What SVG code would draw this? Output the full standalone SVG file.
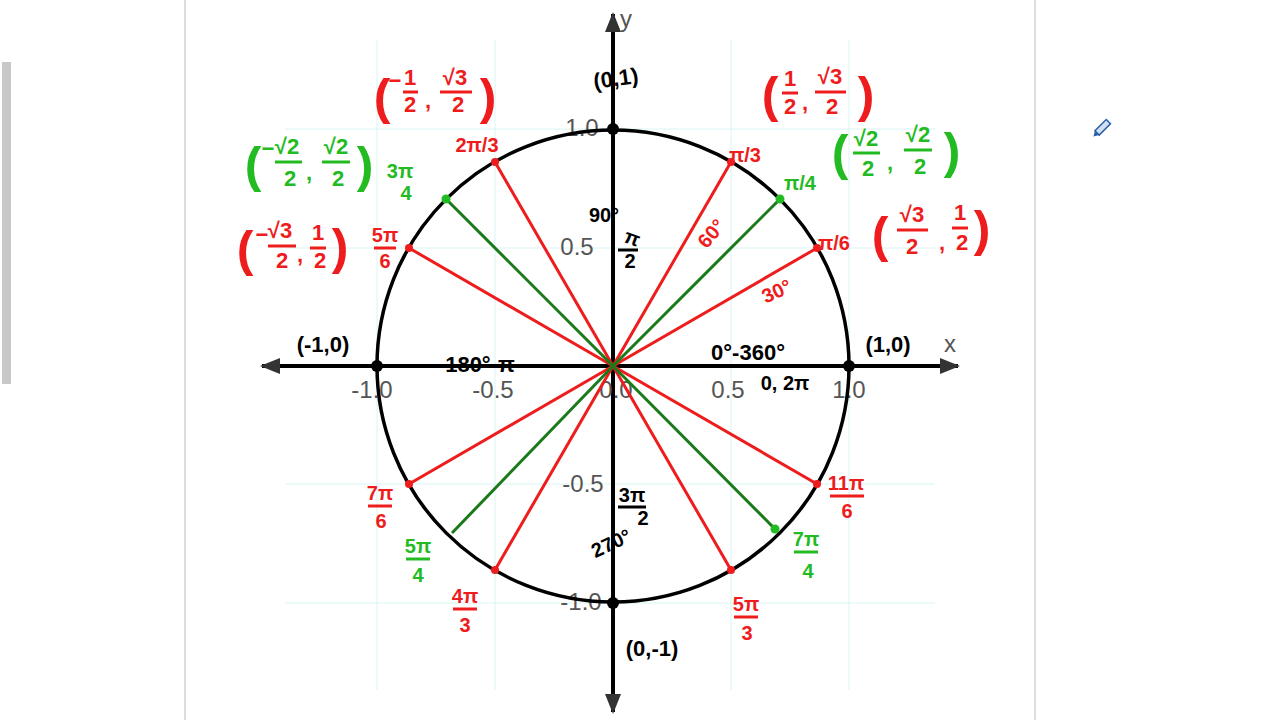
<svg xmlns="http://www.w3.org/2000/svg" width="1280" height="720" viewBox="0 0 1280 720">
<defs>
<style>
.g{stroke:#d8f4f4;stroke-width:1}
.ax{stroke:#000;stroke-width:4}
.tk{font-family:"Liberation Sans",sans-serif;font-size:24px;fill:#555;text-anchor:middle}
.h{font-family:"Liberation Sans",sans-serif;font-weight:bold;text-anchor:middle}
.r{fill:#ee1c1c}.gr{fill:#22bb22}.k{fill:#000}
.p{font-size:50px}.n{font-size:22px}.s{font-size:20px}
.rl{stroke:#ee1c1c;stroke-width:3}.gl{stroke:#1a7a1a;stroke-width:3}
.rb{stroke:#ee1c1c;stroke-width:3}.gb{stroke:#22bb22;stroke-width:3}
</style>
<marker id="ar" viewBox="0 0 10 10" refX="9" refY="5" markerWidth="5" markerHeight="5" orient="auto"><path d="M0,1 L10,5 L0,9 z" fill="#333"/></marker>
</defs>
<rect width="1280" height="720" fill="#fff"/>
<line x1="185" y1="0" x2="185" y2="720" stroke="#bbb"/>
<line x1="1035" y1="0" x2="1035" y2="720" stroke="#bbb"/>
<rect x="2" y="62" width="9" height="322" fill="#c8c8c8"/>
<g id="grid">
<line class="g" x1="377" y1="40" x2="377" y2="690"/><line class="g" x1="495" y1="40" x2="495" y2="690"/><line class="g" x1="731" y1="40" x2="731" y2="690"/><line class="g" x1="849" y1="40" x2="849" y2="690"/>
<line class="g" x1="285" y1="129" x2="935" y2="129"/><line class="g" x1="285" y1="248" x2="935" y2="248"/><line class="g" x1="285" y1="484" x2="935" y2="484"/><line class="g" x1="285" y1="603" x2="935" y2="603"/>
</g>
<g id="axes">
<line class="ax" x1="613" y1="366" x2="958" y2="366" stroke-width="3" marker-end="url(#ar)"/>
<line class="ax" x1="613" y1="366" x2="262" y2="366" stroke-width="3" marker-end="url(#ar)"/>
<line class="ax" x1="613" y1="366" x2="613" y2="14" stroke-width="3" marker-end="url(#ar)"/>
<line class="ax" x1="613" y1="366" x2="613" y2="712" stroke-width="3" marker-end="url(#ar)"/>
<text x="950" y="352" class="tk">x</text><text x="626" y="27" class="tk">y</text>
<text x="582" y="136" class="tk">1.0</text><text x="577" y="255" class="tk">0.5</text><text x="583" y="492" class="tk">-0.5</text><text x="581" y="610" class="tk">-1.0</text>
<text x="372" y="398" class="tk">-1.0</text><text x="493" y="398" class="tk">-0.5</text><text x="616" y="398" class="tk">0.0</text><text x="728" y="398" class="tk">0.5</text><text x="849" y="398" class="tk">1.0</text>
</g>
<g id="circle"><circle cx="613" cy="366" r="236" fill="none" stroke="#000" stroke-width="3.5"/></g>
<g id="connectors">
<line class="rl" x1="613" y1="366" x2="817" y2="248"/><line class="rl" x1="613" y1="366" x2="409" y2="484"/>
<line class="rl" x1="613" y1="366" x2="731" y2="162"/><line class="rl" x1="613" y1="366" x2="495" y2="570"/>
<line class="rl" x1="613" y1="366" x2="495" y2="162"/><line class="rl" x1="613" y1="366" x2="731" y2="570"/>
<line class="rl" x1="613" y1="366" x2="409" y2="248"/><line class="rl" x1="613" y1="366" x2="817" y2="484"/>
<line class="gl" x1="613" y1="366" x2="780" y2="199"/><line class="gl" x1="613" y1="366" x2="452" y2="533"/>
<line class="gl" x1="613" y1="366" x2="446" y2="199"/><line class="gl" x1="613" y1="366" x2="775" y2="529"/>
</g>
<g id="dots">
<circle cx="377" cy="366" r="6"/><circle cx="849" cy="366" r="6"/><circle cx="613" cy="129" r="6"/><circle cx="613" cy="603" r="6"/>
<g fill="#ee1c1c"><circle cx="817" cy="248" r="4"/><circle cx="731" cy="162" r="4"/><circle cx="495" cy="162" r="4"/><circle cx="409" cy="248" r="4"/><circle cx="409" cy="484" r="4"/><circle cx="495" cy="570" r="4"/><circle cx="731" cy="570" r="4"/><circle cx="817" cy="484" r="4"/></g>
<g fill="#22bb22"><circle cx="780" cy="199" r="4.5"/><circle cx="446" cy="199" r="4.5"/><circle cx="775" cy="529" r="4.5"/></g>
</g>
<g id="black-labels" class="h k">
<text x="616" y="86" class="n" transform="rotate(-8 616 80)">(0,1)</text>
<text x="323" y="352" class="n">(-1,0)</text>
<text x="888" y="352" class="n">(1,0)</text>
<text x="652" y="656" class="n">(0,-1)</text>
<text x="480" y="372" class="n">180°-π</text>
<text x="748" y="360" class="n">0°-360°</text>
<text x="785" y="390" class="s">0, 2π</text>
<text x="604" y="222" class="s">90°</text>
<text x="628" y="244" class="s" transform="rotate(20 628 250)">π</text><line x1="618" y1="250" x2="638" y2="250" stroke="#000" stroke-width="3"/><text x="630" y="268" class="s">2</text>
<text x="632" y="502" class="s">3π</text><line x1="618" y1="507" x2="646" y2="507" stroke="#000" stroke-width="3"/><text x="643" y="525" class="s">2</text>
<text x="612" y="550" class="s" transform="rotate(-25 612 545)">270°</text>
</g>
<g id="red-labels" class="h r">
<text x="382" y="114" class="p">(</text><text x="395" y="88" class="n">−</text><text x="410" y="85" class="n">1</text><line class="rb" x1="403" y1="92" x2="418" y2="92"/><text x="410" y="112" class="n">2</text><text x="428" y="108" class="n">,</text><text x="455" y="85" class="n">√3</text><line class="rb" x1="440" y1="92" x2="472" y2="92"/><text x="458" y="112" class="n">2</text><text x="488" y="114" class="p">)</text>
<text x="770" y="112" class="p">(</text><text x="790" y="86" class="n">1</text><line class="rb" x1="782" y1="93" x2="798" y2="93"/><text x="790" y="114" class="n">2</text><text x="805" y="110" class="n">,</text><text x="830" y="84" class="n">√3</text><line class="rb" x1="815" y1="92" x2="846" y2="92"/><text x="832" y="114" class="n">2</text><text x="866" y="112" class="p">)</text>
<text x="880" y="252" class="p">(</text><text x="912" y="222" class="n">√3</text><line class="rb" x1="897" y1="230" x2="928" y2="230"/><text x="912" y="254" class="n">2</text><text x="942" y="250" class="n">,</text><text x="960" y="220" class="n">1</text><line class="rb" x1="952" y1="228" x2="968" y2="228"/><text x="962" y="250" class="n">2</text><text x="982" y="246" class="p">)</text>
<text x="245" y="266" class="p">(</text><text x="262" y="242" class="n">−</text><text x="280" y="238" class="n">√3</text><line class="rb" x1="268" y1="246" x2="296" y2="246"/><text x="282" y="268" class="n">2</text><text x="300" y="262" class="n">,</text><text x="318" y="240" class="n">1</text><line class="rb" x1="310" y1="248" x2="326" y2="248"/><text x="320" y="268" class="n">2</text><text x="340" y="264" class="p">)</text>
<text x="477" y="152" class="s">2π/3</text>
<text x="745" y="162" class="s">π/3</text>
<text x="834" y="250" class="s">π/6</text>
<text x="712" y="240" class="s" transform="rotate(-50 712 234)">60°</text>
<text x="777" y="298" class="s" transform="rotate(-25 777 292)">30°</text>
<text x="385" y="242" class="s">5π</text><line class="rb" x1="374" y1="248" x2="396" y2="248"/><text x="385" y="268" class="s">6</text>
<text x="380" y="500" class="s">7π</text><line class="rb" x1="368" y1="506" x2="392" y2="506"/><text x="381" y="528" class="s">6</text>
<text x="465" y="603" class="s">4π</text><line class="rb" x1="453" y1="609" x2="477" y2="609"/><text x="465" y="632" class="s">3</text>
<text x="746" y="611" class="s">5π</text><line class="rb" x1="734" y1="617" x2="758" y2="617"/><text x="747" y="625" class="s" dy="15">3</text>
<text x="846" y="490" class="s">11π</text><line class="rb" x1="830" y1="496" x2="864" y2="496"/><text x="847" y="518" class="s">6</text>
</g>
<g id="green-labels" class="h gr">
<text x="253" y="182" class="p">(</text><text x="268" y="156" class="n">−</text><text x="287" y="154" class="n">√2</text><line class="gb" x1="275" y1="162" x2="302" y2="162"/><text x="290" y="186" class="n">2</text><text x="309" y="180" class="n">,</text><text x="336" y="154" class="n">√2</text><line class="gb" x1="322" y1="162" x2="350" y2="162"/><text x="338" y="186" class="n">2</text><text x="365" y="182" class="p">)</text>
<text x="400" y="178" class="s">3π</text><text x="406" y="200" class="s">4</text>
<text x="800" y="190" class="s">π/4</text>
<text x="840" y="170" class="p">(</text><text x="866" y="146" class="n">√2</text><line class="gb" x1="853" y1="153" x2="880" y2="153"/><text x="868" y="176" class="n">2</text><text x="890" y="170" class="n">,</text><text x="918" y="142" class="n">√2</text><line class="gb" x1="904" y1="150" x2="932" y2="150"/><text x="920" y="174" class="n">2</text><text x="952" y="168" class="p">)</text>
<text x="418" y="553" class="s">5π</text><line class="gb" x1="406" y1="559" x2="430" y2="559"/><text x="418" y="582" class="s">4</text>
<text x="806" y="546" class="s">7π</text><line class="gb" x1="794" y1="552" x2="818" y2="552"/><text x="808" y="578" class="s">4</text>
</g>
<g id="pencil" transform="translate(1102 128) rotate(45)"><rect x="-3" y="-9" width="6" height="16" fill="#cfe0f5" stroke="#2a5ea8" stroke-width="1.5"/><path d="M-3,7 L0,12 L3,7 z" fill="#2a5ea8"/></g>
</svg>
